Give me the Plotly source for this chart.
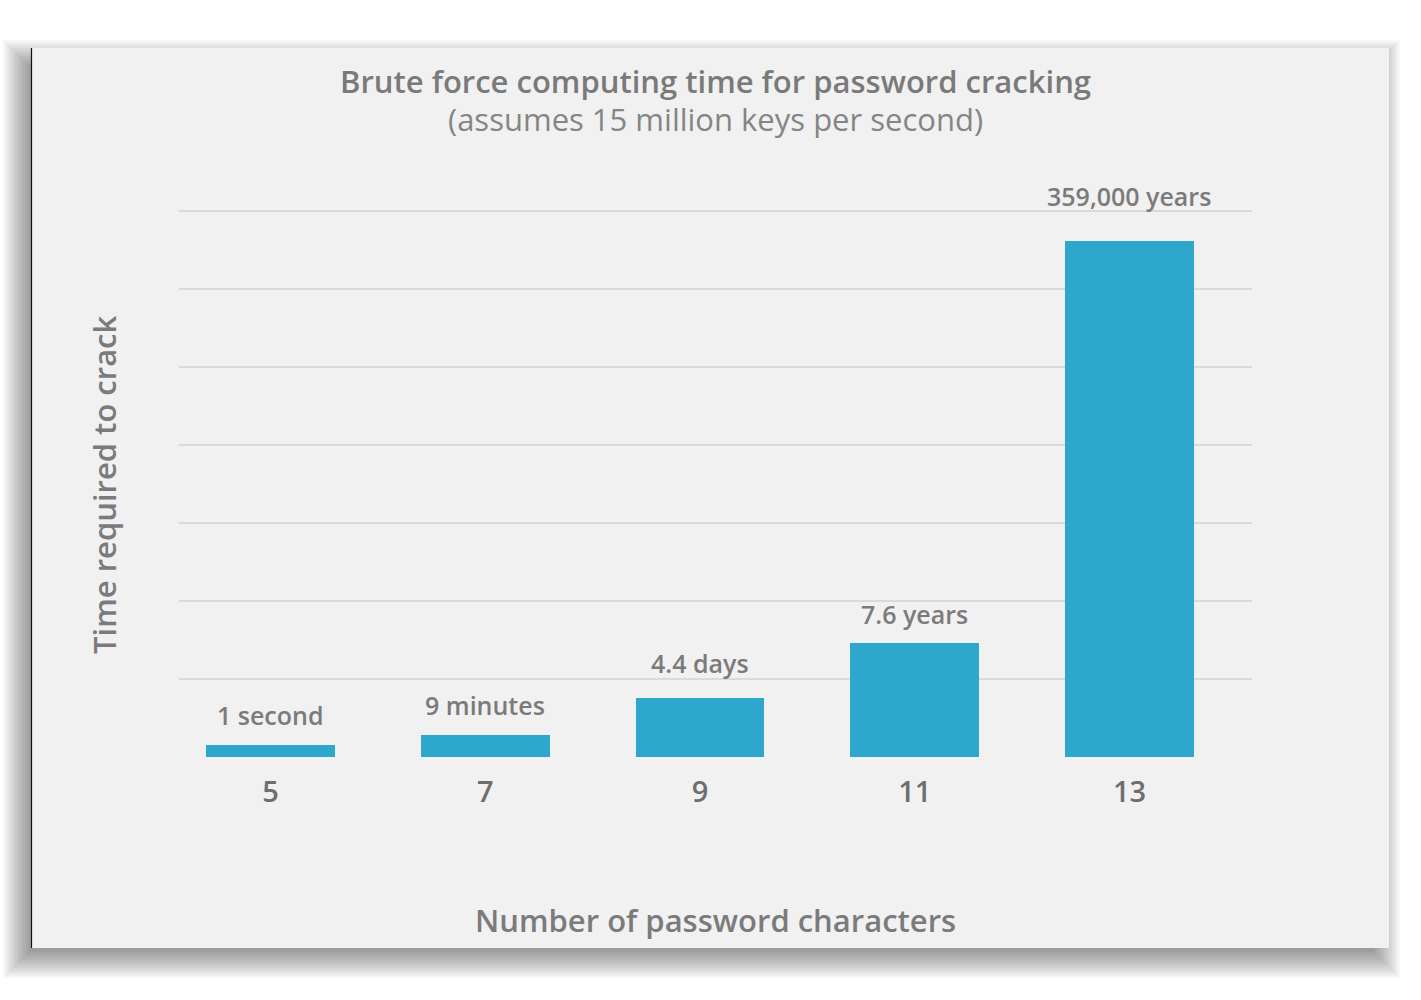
import plotly.graph_objects as go

# ---- data ----
password_lengths = [5, 7, 9, 11, 13]
relative_heights = [0.15, 0.28, 0.76, 1.46, 6.62]   # bar heights read in grid units
time_labels = ["1 second", "9 minutes", "4.4 days", "7.6 years", "359,000 years"]
grid_ticks = [0, 1, 2, 3, 4, 5, 6, 7]

title_text = "Brute force computing time for password cracking"
subtitle_text = "(assumes 15 million keys per second)"
x_title = "Number of password characters"
y_title = "Time required to crack"

# ---- layout geometry (pixels) ----
FW, FH = 1421, 1000
L, R, T, B = 179, 1252, 209, 757
PW, PH = R - L, B - T

def px(x):
    return (x - L) / PW

def py(y):
    return (B - y) / PH

FONT = "Open Sans, Noto Sans, sans-serif"
BAR = "#2ea7cc"
TXT = "#7b7b7b"

fig = go.Figure()
fig.add_trace(go.Bar(
    x=password_lengths, y=relative_heights, width=1.2,
    marker=dict(color=BAR, line=dict(width=0)),
    hoverinfo="skip",
))

shapes = []
# soft shadow (stack of translucent rectangles)
card = (31, 48, 1389, 948)
sh_base = (31, 68, 1372, 950)
for i in range(14, 0, -1):
    e = i * 2
    shapes.append(dict(
        type="rect", xref="paper", yref="paper", layer="below",
        x0=px(sh_base[0] - e), x1=px(sh_base[2] + e),
        y0=py(sh_base[3] + e), y1=py(sh_base[1] - e),
        fillcolor="rgba(0,0,0,0.03)", line=dict(width=0),
    ))
# card
shapes.append(dict(
    type="rect", xref="paper", yref="paper", layer="below",
    x0=px(card[0]), x1=px(card[2]), y0=py(card[3]), y1=py(card[1]),
    fillcolor="#f1f1f1", line=dict(width=0),
))
shapes.append(dict(
    type="line", xref="paper", yref="paper", layer="below",
    x0=px(31.5), x1=px(31.5), y0=py(card[3]), y1=py(card[1]),
    line=dict(color="#111111", width=1.2),
))

label_shifts = [30, 30, 35, 29, 45]
annotations = []
for xv, yv, lab, sh in zip(password_lengths, relative_heights, time_labels, label_shifts):
    annotations.append(dict(
        x=xv, y=yv, xref="x", yref="y", text=lab, showarrow=False,
        yanchor="middle", yshift=sh,
        font=dict(family=FONT, size=25, color=TXT, weight=600),
    ))
annotations += [
    dict(x=px(715.5), y=py(81), xref="paper", yref="paper", text=title_text,
         showarrow=False, xanchor="center", yanchor="middle",
         font=dict(family=FONT, size=31, color="#7a7a7a", weight=600)),
    dict(x=px(715.5), y=py(119), xref="paper", yref="paper", text=subtitle_text,
         showarrow=False, xanchor="center", yanchor="middle",
         font=dict(family=FONT, size=31, color="#858585")),
    dict(x=px(715), y=py(920), xref="paper", yref="paper", text=x_title,
         showarrow=False, xanchor="center", yanchor="middle",
         font=dict(family=FONT, size=31, color=TXT, weight=600)),
    dict(x=px(104), y=py(485), xref="paper", yref="paper", text=y_title,
         showarrow=False, xanchor="center", yanchor="middle", textangle=-90,
         font=dict(family=FONT, size=31, color=TXT, weight=600)),
]

fig.update_layout(
    width=FW, height=FH,
    margin=dict(l=L, r=FW - R, t=T, b=FH - B, pad=0),
    paper_bgcolor="white", plot_bgcolor="rgba(0,0,0,0)",
    showlegend=False, bargap=0,
    shapes=shapes, annotations=annotations,
    xaxis=dict(
        range=[4.148, 14.141], tickvals=password_lengths,
        ticktext=[str(v) for v in password_lengths],
        showgrid=False, zeroline=False, showline=False,
        ticks="outside", ticklen=0, ticklabelstandoff=9,
        tickfont=dict(family=FONT, size=29, color="#6e6e6e", weight=600),
        fixedrange=True,
    ),
    yaxis=dict(
        range=[0, 7.0256], tickvals=grid_ticks, showticklabels=False,
        showgrid=True, gridcolor="#dadada", gridwidth=1.5,
        zeroline=False, showline=False, fixedrange=True,
    ),
)

fig.write_html("out.html")
